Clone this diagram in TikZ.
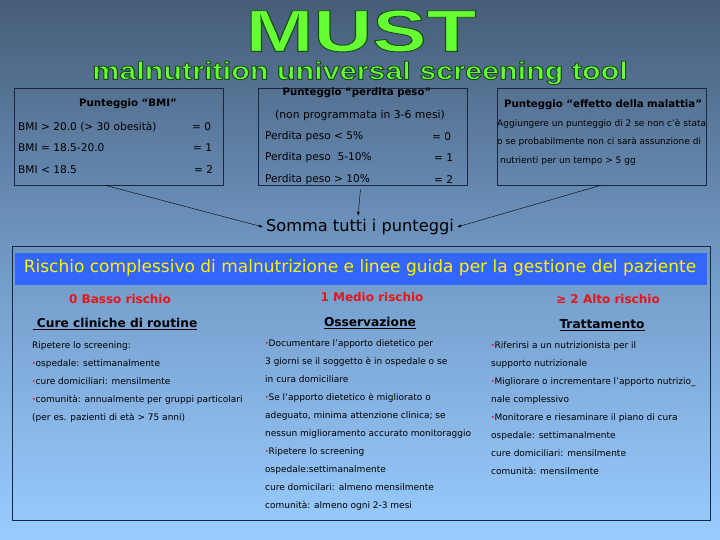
\documentclass[tikz,border=0pt]{standalone}
\usepackage{fontspec}
\setmainfont{DejaVu Sans}
\newfontfamily\headfont{Liberation Sans}
\usetikzlibrary{arrows,positioning}

\definecolor{skytop}{RGB}{70,93,120}
\definecolor{skymid}{RGB}{115,155,200}
\definecolor{skybottom}{RGB}{153,204,255}
\definecolor{boxnavy}{RGB}{25,38,64}
\definecolor{barblue}{RGB}{51,102,255}
\definecolor{mustgreen}{RGB}{102,255,51}
\definecolor{riskred}{RGB}{235,20,20}

\newcommand{\riskdot}{\textcolor{riskred}{\bfseries·}}
\newcommand{\outlined}[1]{\special{pdf:literal 2 Tr 0.9 w 0.1 0.3 0.1 RG}#1\special{pdf:literal 0 Tr}}

\tikzset{
    scorebox/.style={
           draw=boxnavy, thick,
           minimum width=209, minimum height=97,
           inner sep=0pt,
           },
    scorehead/.style={
           font=\bfseries\fontsize{10.2}{12}\selectfont,
           inner sep=0pt,
           },
    scoreline/.style={
           font=\fontsize{10.6}{12}\selectfont,
           anchor=west, inner sep=0pt,
           },
    risktitle/.style={
           font=\bfseries\fontsize{12}{14}\selectfont,
           text=riskred, inner sep=0pt,
           },
    careplan/.style={
           font=\bfseries\fontsize{12.2}{14}\selectfont,
           inner sep=0pt,
           },
    carelist/.style={
           font=\fontsize{9}{18}\selectfont,
           align=left, anchor=north west, inner sep=0pt,
           },
}

\begin{document}
\begin{tikzpicture}[x=1pt,y=-1pt]
\shade[top color=skytop, bottom color=skybottom, middle color=skymid] (0,0) rectangle (720,540);
\useasboundingbox (0,0) rectangle (720,540);

% title
\node[font=\headfont\bfseries\fontsize{59}{60}\selectfont, text=mustgreen, inner sep=0pt] (must) at (361,31)
  {\scalebox{1.38}[1]{\outlined{MUST}}};
\node[font=\headfont\bfseries\fontsize{25}{26}\selectfont, text=mustgreen, inner sep=0pt] (tool) at (360,73)
  {\scalebox{1.22}[1]{\outlined{malnutrition universal screening tool}}};

% score boxes
\node[scorebox] (bmi) at (118.5,136.5) {};
\node[scorebox] (perdita) at (362.5,136.5) {};
\node[scorebox] (effetto) at (601.5,136.5) {};

\node[scorehead] (bmihead) at (128,104) {Punteggio “BMI”};
\node[scoreline] (bmi1) at (18,127) {BMI > 20.0 (> 30 obesità)};
\node[scoreline] (bmi2) at (18,148) {BMI = 18.5-20.0};
\node[scoreline] (bmi3) at (18,170) {BMI < 18.5};
\node[scoreline] (bmi1s) at (192,127) {= 0};
\node[scoreline] (bmi2s) at (193,148) {= 1};
\node[scoreline] (bmi3s) at (194,170) {= 2};

\node[scorehead] (perditahead) at (357,93) {Punteggio “perdita peso”};
\node[font=\fontsize{10.8}{12}\selectfont, inner sep=0pt] (perditanote) at (360,116) {(non programmata in 3-6 mesi)};
\node[scoreline] (perdita1) at (265,137) {Perdita peso < 5\%};
\node[scoreline] (perdita2) at (265,158) {Perdita peso\ \ 5-10\%};
\node[scoreline] (perdita3) at (265,180) {Perdita peso > 10\%};
\node[scoreline] (perdita1s) at (432,137) {= 0};
\node[scoreline] (perdita2s) at (434,158) {= 1};
\node[scoreline] (perdita3s) at (434,180) {= 2};

\node[scorehead] (effettohead) at (603,105) {Punteggio “effetto della malattia”};
\node[font=\fontsize{9}{18.5}\selectfont, align=left, anchor=north west, inner sep=0pt] (effettotext) at (497,119)
  {Aggiungere un punteggio di 2 se non c’è stata\\o se probabilmente non ci sarà assunzione di\\\ nutrienti per un tempo > 5 gg};

% sum
\node[font=\fontsize{16.2}{18}\selectfont, inner sep=3pt] (somma) at (360,227) {Somma tutti i punteggi};
\draw[-latex] ([xshift=-13pt]bmi.south) -- (somma.west);
\draw[-latex] ([xshift=-2pt,yshift=-4pt]perdita.south) -- ([xshift=-2pt]somma.north);
\draw[-latex] ([xshift=-1pt]effetto.south) -- (somma.east);

% risk panel
\node[draw=boxnavy, thick, minimum width=698, minimum height=274, inner sep=0pt] (panel) at (361,383) {};
\node[fill=barblue, minimum width=692, minimum height=32, inner sep=0pt] (bar) at (361,269) {};
\node[font=\fontsize{17}{19}\selectfont, text=yellow, inner sep=0pt] (bartext) at (360,268)
  {Rischio complessivo di malnutrizione e linee guida per la gestione del paziente};

\node[risktitle] (basso) at (120,299) {0 Basso rischio};
\node[risktitle] (medio) at (372,297) {1 Medio rischio};
\node[risktitle] (alto) at (608,299) {≥ 2 Alto rischio};

\node[careplan] (routine) at (115,324) {\underline{\ Cure cliniche di routine}};
\node[careplan] (osserva) at (370,323) {\underline{Osservazione}};
\node[careplan] (tratta) at (602,325) {\underline{Trattamento}};

\node[carelist] (bassolist) at (32,341)
  {Ripetere lo screening:\\
   \riskdot ospedale: settimanalmente\\
   \riskdot cure domiciliari: mensilmente\\
   \riskdot comunità: annualmente per gruppi particolari\\
   (per es. pazienti di età > 75 anni)};
\node[carelist] (mediolist) at (265,339)
  {\riskdot Documentare l’apporto dietetico per\\
   3 giorni se il soggetto è in ospedale o se\\
   in cura domiciliare\\
   \riskdot Se l’apporto dietetico è migliorato o\\
   adeguato, minima attenzione clinica; se\\
   nessun miglioramento accurato monitoraggio\\
   \riskdot Ripetere lo screening\\
   ospedale:settimanalmente\\
   cure domicilari: almeno mensilmente\\
   comunità: almeno ogni 2-3 mesi};
\node[carelist] (altolist) at (491,341)
  {\riskdot Riferirsi a un nutrizionista per il\\
   supporto nutrizionale\\
   \riskdot Migliorare o incrementare l’apporto nutrizio\_\\
   nale complessivo\\
   \riskdot Monitorare e riesaminare il piano di cura\\
   ospedale: settimanalmente\\
   cure domiciliari: mensilmente\\
   comunità: mensilmente};
\end{tikzpicture}
\end{document}
